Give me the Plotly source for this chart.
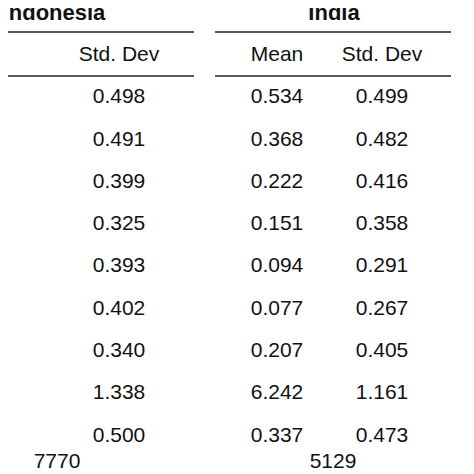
import plotly.graph_objects as go

groups = ["Indonesia", "India"]
subheaders = ["Mean", "Std. Dev"]
indonesia_mean = ["0.549", "0.395", "0.193", "0.120", "0.1", "0.203", "0.134", "6.368", "0.4"]
indonesia_sd = ["0.498", "0.491", "0.399", "0.325", "0.393", "0.402", "0.340", "1.338", "0.500"]
india_mean = ["0.534", "0.368", "0.222", "0.151", "0.094", "0.077", "0.207", "6.242", "0.337"]
india_sd = ["0.499", "0.482", "0.416", "0.358", "0.291", "0.267", "0.405", "1.161", "0.473"]
n_obs = ["7770", "5129"]

row_y = [90 + 42.3 * i for i in range(len(india_sd))]
col_x = [-19, 111, 269, 374]
font = dict(family="Liberation Sans, Arial, sans-serif", size=21, color="#111")

fig = go.Figure()
for x, vals in zip(col_x, [indonesia_mean, indonesia_sd, india_mean, india_sd]):
    fig.add_trace(go.Scatter(x=[x] * len(vals), y=row_y, text=vals, mode="text",
                             textfont=font, hoverinfo="skip", cliponaxis=False))
fig.add_trace(go.Scatter(x=col_x, y=[48] * 4, text=subheaders * 2, mode="text",
                         textfont=font, hoverinfo="skip"))
fig.add_trace(go.Scatter(x=[46, 326], y=[6, 6], text=[f"<b>{g}</b>" for g in groups],
                         mode="text", textfont=dict(font, size=22), hoverinfo="skip"))
fig.add_trace(go.Scatter(x=[49, 325], y=[455, 455], text=n_obs, mode="text",
                         textfont=font, hoverinfo="skip"))

for y in [24, 68]:
    for x0, x1 in [(-100, 186), (207, 443), (465, 600)]:
        fig.add_shape(type="line", x0=x0, x1=x1, y0=y, y1=y, line=dict(color="#222", width=1.5))

fig.update_layout(width=474, height=474, margin=dict(l=0, r=0, t=0, b=0),
                  showlegend=False, plot_bgcolor="white", paper_bgcolor="white",
                  xaxis=dict(range=[0, 474], visible=False, fixedrange=True),
                  yaxis=dict(range=[474, 0], visible=False, fixedrange=True))
fig.write_html("out.html", config={"displayModeBar": False})
